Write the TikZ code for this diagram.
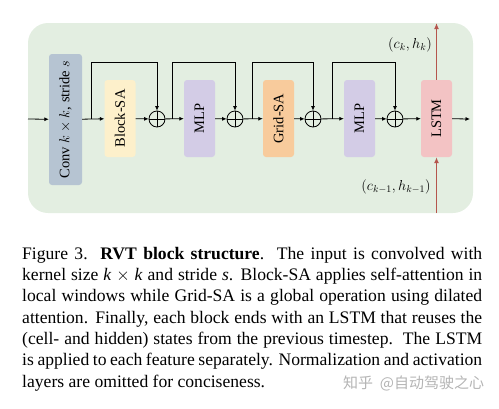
\documentclass[tikz,border=0pt]{standalone}
\usepackage{fontspec}
\setmainfont{Liberation Serif}
\newfontfamily\cjk{Noto Sans CJK SC}
\usetikzlibrary{arrows.meta}
\definecolor{bggreen}{HTML}{E3EEE1}
\definecolor{convc}{HTML}{B6C4D2}
\definecolor{bsac}{HTML}{FDF0CB}
\definecolor{mlpc}{HTML}{D3CCE6}
\definecolor{gsac}{HTML}{F8CB9C}
\definecolor{lstmc}{HTML}{F3C3C4}
\definecolor{redc}{HTML}{B5554D}
\definecolor{wmc}{HTML}{B4B4B4}
\begin{document}
\begin{tikzpicture}[x=1pt,y=-1pt,
  blk/.style={rounded corners=3pt, minimum width=77pt, minimum height=31pt, rotate=90, inner sep=0pt, font=\fontsize{14.5}{16}\selectfont},
  plus/.style={circle, draw, line width=0.8pt, minimum size=16pt, inner sep=0pt},
  arr/.style={-{Latex[length=4.5pt,width=4pt]}, line width=0.8pt},
  rarr/.style={-{Latex[length=6pt,width=5pt]}, line width=1.4pt, draw=redc},
  capline/.style={anchor=base west, inner sep=0pt, font=\fontsize{17.6}{20}\selectfont}
]
\useasboundingbox (0,0) rectangle (499,408);
\fill[bggreen, rounded corners=20pt] (28,23) rectangle (473,213);

\node[blk, fill=convc, minimum width=131pt, minimum height=33pt] (conv) at (65.5,119.5) {Conv $k\times k$, stride $s$};
\node[blk, fill=bsac] (bsa) at (120,118.5) {Block-SA};
\node[plus] (p1) at (157,119) {};
\node[blk, fill=mlpc] (mlp1) at (199.5,118.5) {MLP};
\node[plus] (p2) at (235,119) {};
\node[blk, fill=gsac] (gsa) at (278.5,118.5) {Grid-SA};
\node[plus] (p3) at (313,119) {};
\node[blk, fill=mlpc] (mlp2) at (359.5,118.5) {MLP};
\node[plus] (p4) at (395,119) {};
\node[blk, fill=lstmc] (lstm) at (436.5,118.5) {LSTM};

\draw[line width=0.8pt] (p1.north) -- (p1.south) (p1.west) -- (p1.east);
\draw[line width=0.8pt] (p2.north) -- (p2.south) (p2.west) -- (p2.east);
\draw[line width=0.8pt] (p3.north) -- (p3.south) (p3.west) -- (p3.east);
\draw[line width=0.8pt] (p4.north) -- (p4.south) (p4.west) -- (p4.east);

\coordinate (in) at (28,119);
\coordinate (out) at (470,119);
\coordinate (s1) at (91,119);
\coordinate (s2) at (172,119);
\coordinate (s3) at (252,119);
\coordinate (s4) at (332,119);
\coordinate (top) at (0,62);
\coordinate (rb) at (436.5,213);
\coordinate (rt) at (436.5,23);

\draw[arr] (in) -- (conv);
\draw[arr] (conv) -- (bsa);
\draw[arr] (bsa) -- (p1);
\draw[arr] (p1) -- (mlp1);
\draw[arr] (mlp1) -- (p2);
\draw[arr] (p2) -- (gsa);
\draw[arr] (gsa) -- (p3);
\draw[arr] (p3) -- (mlp2);
\draw[arr] (mlp2) -- (p4);
\draw[arr] (p4) -- (lstm);
\draw[arr] (lstm) -- (out);

\draw[arr] (s1) -- (s1 |- top) -| (p1);
\draw[arr] (s2) -- (s2 |- top) -| (p2);
\draw[arr] (s3) -- (s3 |- top) -| (p3);
\draw[arr] (s4) -- (s4 |- top) -| (p4);

\draw[rarr] (rb) -- (lstm);
\draw[rarr] (lstm) -- (rt);

\node[font=\fontsize{14.5}{16}\selectfont, inner sep=0pt] (lk) at (410,45) {$(c_k, h_k)$};
\node[font=\fontsize{14.5}{16}\selectfont, inner sep=0pt] (lk1) at (396,187) {$(c_{k-1}, h_{k-1})$};

\node[capline] (c1) at (22,259) {\makebox[460pt][s]{Figure 3.\ \ \textbf{RVT block structure}.\ \ The input is convolved with}};
\node[capline] (c2) at (22,280.3) {\makebox[460pt][s]{kernel size \textit{k} $\times$ \textit{k} and stride \textit{s}. Block-SA applies self-attention in}};
\node[capline] (c3) at (22,301.7) {\makebox[460pt][s]{local windows while Grid-SA is a global operation using dilated}};
\node[capline] (c4) at (22,323) {\makebox[460pt][s]{attention. Finally, each block ends with an LSTM that reuses the}};
\node[capline] (c5) at (22,344.3) {\makebox[460pt][s]{(cell- and hidden) states from the previous timestep.\ \ The LSTM}};
\node[capline] (c6) at (22,365.7) {\makebox[460pt][s]{is applied to each feature separately. Normalization and activation}};
\node[capline] (c7) at (22,387) {layers are omitted for conciseness.};

\node[anchor=base west, inner sep=0pt, text=wmc, font=\cjk\fontsize{15}{17}\selectfont] (wm) at (343,388) {知乎\ \ @自动驾驶之心};
\end{tikzpicture}
\end{document}
